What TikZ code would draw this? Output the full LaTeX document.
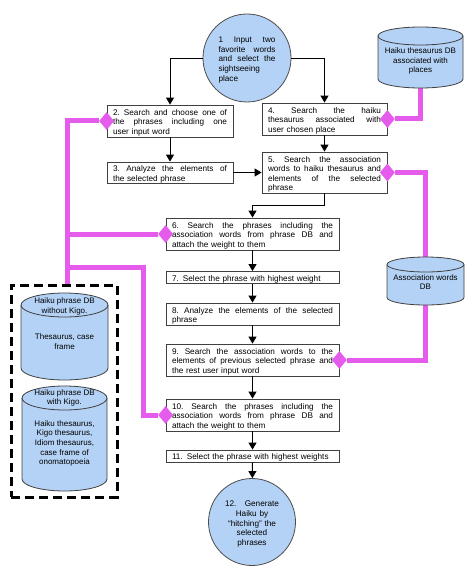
\documentclass[tikz,border=0pt]{standalone}
\usepackage{fontspec}
\setmainfont{Liberation Sans}
\usetikzlibrary{arrows.meta,shapes.geometric,backgrounds}
\definecolor{cfill}{RGB}{180,210,245}
\definecolor{mag}{RGB}{229,92,236}
\newcommand\jl[1]{\par\noindent\hbox to\hsize{\frenchspacing\spaceskip=0pt\xspaceskip=0pt\relax #1}\par}
\newcommand\lastl[1]{\par\noindent\hbox{#1}\par}
\newcommand\cl[1]{\par\noindent\hbox to\hsize{\hfil#1\hfil}\par}
\newcommand\dbcyl[5]{%
  \pgfmathsetmacro\rx{(#2-#1)/2}%
  \draw[cylst] (#1,#3+#5) -- (#1,#4-#5) arc[start angle=180,end angle=360,x radius=\rx pt,y radius=#5pt] -- (#2,#3+#5) arc[start angle=0,end angle=180,x radius=\rx pt,y radius=#5pt] -- cycle;
  \draw[cylst,fill=none] (#1,#3+#5) arc[start angle=180,end angle=360,x radius=\rx pt,y radius=#5pt];}
\tikzset{
  box/.style={draw=black!75, fill=white, line width=0.8pt, rectangle, inner sep=0pt, align=left, font=\fontsize{8.2}{9.4}\selectfont},
  circ/.style={circle, draw=black!70, fill=cfill, line width=0.8pt, inner sep=0pt, align=left, font=\fontsize{8.2}{9.7}\selectfont},
  cylst/.style={draw=black!75, fill=cfill, line width=0.8pt},
  cyltxt/.style={align=center, inner sep=0pt, font=\fontsize{8}{9.6}\selectfont},
  arr/.style={-{Triangle[width=8pt,length=7pt]}, line width=0.9pt},
  dia/.style={diamond, fill=mag, draw=none, inner sep=0pt, minimum width=15pt, minimum height=18pt},
  mline/.style={draw=mag, line width=5pt},
}
\begin{document}
\begin{tikzpicture}[x=1pt,y=-1pt]
\useasboundingbox (0,0) rectangle (474,572);
% flow nodes
\node[circ, minimum size=88pt, text width=57pt] (c1) at (247,58)
 {\jl{1 Input two}\jl{favorite words}\jl{and select the}\lastl{sightseeing}\lastl{place}};
\node[box, minimum width=126pt, minimum height=32pt, text width=114pt] (b2) at (170,121)
 {\jl{2. Search and choose one of}\jl{the phrases including one}\lastl{user input word}};
\node[box, minimum width=126pt, minimum height=21pt, text width=114pt] (b3) at (170,172.5)
 {\jl{3. Analyze the elements of}\lastl{the selected phrase}};
\node[box, minimum width=125pt, minimum height=32pt, text width=113pt] (b4) at (324.5,119)
 {\jl{4. Search the haiku}\jl{thesaurus associated with}\lastl{user chosen place}};
\node[box, minimum width=125pt, minimum height=41pt, text width=113pt] (b5) at (324.5,172.5)
 {\jl{5. Search the association}\jl{words to haiku thesaurus and}\jl{elements of the selected}\lastl{phrase}};
\node[box, minimum width=173pt, minimum height=32pt, text width=161pt] (b6) at (252.5,234)
 {\jl{6. Search the phrases including the}\jl{association words from phrase DB and}\lastl{attach the weight to them}};
\node[box, minimum width=173pt, minimum height=12pt, text width=161pt] (b7) at (252.5,277.5)
 {\lastl{7. Select the phrase with highest weight}};
\node[box, minimum width=173pt, minimum height=22pt, text width=161pt] (b8) at (252.5,314)
 {\jl{8. Analyze the elements of the selected}\lastl{phrase}};
\node[box, minimum width=173pt, minimum height=32pt, text width=161pt] (b9) at (252.5,360)
 {\jl{9. Search the association words to the}\jl{elements of previous selected phrase and}\lastl{the rest user input word}};
\node[box, minimum width=173pt, minimum height=32pt, text width=161pt] (b10) at (252.5,415)
 {\jl{10. Search the phrases including the}\jl{association words from phrase DB and}\lastl{attach the weight to them}};
\node[box, minimum width=173pt, minimum height=12pt, text width=161pt] (b11) at (252.5,456)
 {\lastl{11. Select the phrase with highest weights}};
\node[circ, minimum size=87pt, text width=54pt] (c12) at (252,522)
 {\jl{12. Generate}\cl{Haiku by}\cl{``hitching'' the}\cl{selected}\cl{phrases}};
% databases
\dbcyl{378}{463}{27}{88}{9}
\node[inner sep=0pt, minimum width=85pt, minimum height=61pt] (cp) at (420.5,57.5) {};
\node[cyltxt] at (420.5,61) {Haiku thesaurus DB\\associated with\\places};
\dbcyl{387}{464}{257}{305}{7.5}
\node[inner sep=0pt, minimum width=77pt, minimum height=48pt] (ca) at (425.5,281) {};
\node[cyltxt] at (425.5,282) {Association words\\DB};
\node[draw=black, line width=3pt, dash pattern=on 9pt off 5pt, minimum width=106pt, minimum height=212pt, inner sep=0pt] (dbox) at (64,391) {};
\dbcyl{21}{108}{293}{380}{12}
\node[cyltxt] (ka) at (64.5,306.5) {Haiku phrase DB\\without Kigo.};
\node[cyltxt] at (64.5,341.5) {Thesaurus, case\\frame};
\dbcyl{22}{107}{386}{491}{12}
\node[cyltxt] (kb) at (64.5,398) {Haiku phrase DB\\with Kigo.};
\node[cyltxt] at (64.5,443.5) {Haiku thesaurus,\\Kigo thesaurus,\\Idiom thesaurus,\\case frame of\\onomatopoeia};
% arrows
\draw[arr] (c1.west) -| (b2.north);
\draw[arr] (c1.east) -| (b4.north);
\draw[arr] (b2) -- (b3);
\draw[arr] (b3) -- (b5);
\draw[arr] (b4) -- (b5);
\draw[arr] (b5.south) -- ++(0,12) -| (b6.north);
\draw[arr] (b6) -- (b7);
\draw[arr] (b7) -- (b8);
\draw[arr] (b8) -- (b9);
\draw[arr] (b9) -- (b10);
\draw[arr] (b10) -- (b11);
\draw[arr] (b11) -- (c12);
% diamonds
\node[dia] (d2) at (b2.west) {};
\node[dia] (d4) at (b4.east) {};
\node[dia] (d5) at (b5.east) {};
\node[dia] (d6) at (b6.west) {};
\node[dia] (d9) at (b9.east) {};
\node[dia] (d10) at (b10.west) {};
\coordinate (lv) at ([xshift=3pt]dbox.north);
\coordinate (kj) at (143,267);
\begin{pgfonlayer}{background}
\draw[mline] (lv) |- (d2);
\draw[mline] (lv) |- (d6);
\draw[mline] (lv |- kj) -- (kj) |- (d10);
\draw[mline] (cp.south) |- (d4);
\draw[mline] (ca.north) |- (d5);
\draw[mline] (ca.south) |- (d9);
\end{pgfonlayer}
\end{tikzpicture}
\end{document}
